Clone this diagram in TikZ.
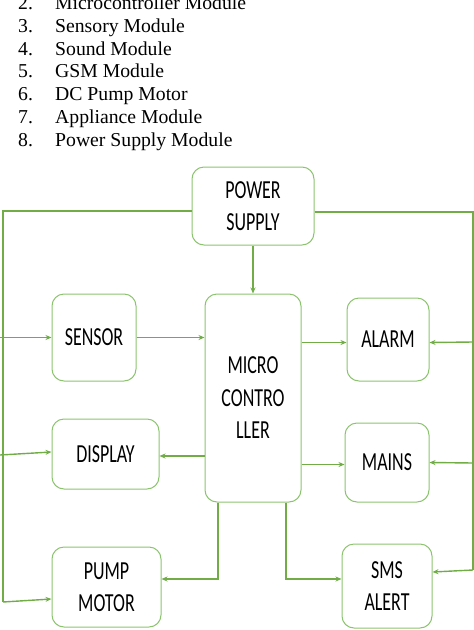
\documentclass[tikz,border=0pt]{standalone}
\usepackage{fontspec}
\setmainfont{Liberation Serif}
\newfontfamily\boxfont[FakeStretch=0.69]{Carlito}
\usetikzlibrary{arrows.meta}
\definecolor{linegreen}{RGB}{112,173,71}
\definecolor{boxgreen}{RGB}{140,195,110}
\begin{document}
\begin{tikzpicture}[x=1pt,y=-1pt,
  blk/.style={draw=boxgreen,line width=1pt,rounded corners=12pt,align=center,
    font=\boxfont\fontsize{26}{32.5}\selectfont,inner sep=0pt},
  bus/.style={draw=linegreen,line width=1.6pt},
  arr/.style={draw=linegreen,line width=1.4pt,-{Stealth[length=6pt,width=5pt]}},
  lst/.style={anchor=base west,inner sep=0pt,font=\fontsize{19.7}{23}\selectfont}]
\useasboundingbox (0,0) rectangle (474,630);
% list
\node[lst] (n2) at (18,9.5) {2.};   \node[lst] (t2) at (55,9.5) {Microcontroller Module};
\node[lst] (n3) at (18,32.3) {3.};  \node[lst] (t3) at (55,32.3) {Sensory Module};
\node[lst] (n4) at (18,55.1) {4.};  \node[lst] (t4) at (55,55.1) {Sound Module};
\node[lst] (n5) at (18,77.9) {5.};  \node[lst] (t5) at (55,77.9) {GSM Module};
\node[lst] (n6) at (18,100.7) {6.}; \node[lst] (t6) at (55,100.7) {DC Pump Motor};
\node[lst] (n7) at (18,123.5) {7.}; \node[lst] (t7) at (55,123.5) {Appliance Module};
\node[lst] (n8) at (18,146.3) {8.}; \node[lst] (t8) at (55,146.3) {Power Supply Module};
% blocks
\node[blk,minimum width=122pt,minimum height=78pt] (ps) at (253,206) {POWER\\SUPPLY};
\node[blk,minimum width=84pt,minimum height=87pt] (sen) at (94,337.5) {SENSOR};
\node[blk,minimum width=96pt,minimum height=208pt] (mc) at (253,398) {MICRO\\CONTRO\\LLER};
\node[blk,minimum width=82pt,minimum height=83pt] (alm) at (388,339.5) {ALARM};
\node[blk,minimum width=107pt,minimum height=70pt] (dsp) at (105.5,454) {DISPLAY};
\node[blk,minimum width=84pt,minimum height=79pt] (mns) at (387,462.5) {MAINS};
\node[blk,minimum width=109pt,minimum height=80pt] (pmp) at (106.5,587) {PUMP\\MOTOR};
\node[blk,minimum width=90pt,minimum height=84pt] (sms) at (387,586) {SMS\\ALERT};
% bus coordinates
\coordinate (Ltop) at (3,211);
\coordinate (Lbot) at (3,602);
\coordinate (Lsen) at (0,337.5);
\coordinate (Ldsp) at (0,455);
\coordinate (Rtop) at (473,212);
\coordinate (Rbot) at (473,570);
\coordinate (Ralm) at (473,342);
\coordinate (Rmns) at (473,463);
% buses
\draw[bus] ([yshift=-5pt]ps.west) -- (Ltop) -- (Lbot);
\draw[bus] ([yshift=-6pt]ps.east) -- (Rtop) -- (Rbot);
\draw[arr] (Lsen) -- (sen.west);
\draw[arr] (Ldsp) -- ([yshift=2pt]dsp.west);
\draw[arr] (Lbot) -- ([yshift=-12pt]pmp.west);
\draw[arr] (Ralm) -- ([yshift=-3pt]alm.east);
\draw[arr] (Rmns) -- (mns.east);
\draw[arr] (Rbot) -- ([yshift=14pt]sms.east);
% microcontroller links
\draw[arr] (ps.south) -- (mc.north);
\draw[arr] (sen.east) -- (mc.west |- sen.east);
\draw[arr] (mc.east |- alm.west) ++(0,3) -- ([yshift=-3pt]alm.west);
\draw[arr] ([yshift=-2pt]mc.west |- dsp.east) -- ([yshift=-2pt]dsp.east);
\draw[arr] ([yshift=-2pt]mc.east |- mns.west) -- ([yshift=-2pt]mns.west);
\draw[arr] ([xshift=-35pt]mc.south) |- ([yshift=8pt]pmp.east);
\draw[arr] ([xshift=33pt]mc.south) |- ([yshift=7pt]sms.west);
\end{tikzpicture}
\end{document}
